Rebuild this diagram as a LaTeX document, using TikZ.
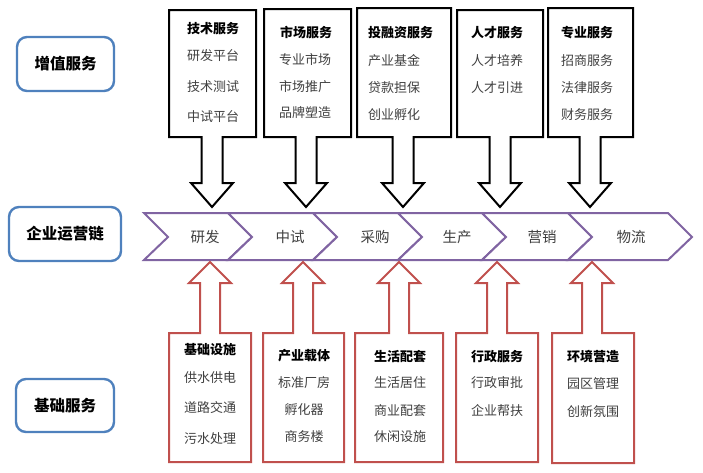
\documentclass[tikz,border=0pt]{standalone}
\usepackage{fontspec}
\setmainfont{Noto Sans CJK SC}
\definecolor{cblue}{HTML}{4F81BD}
\definecolor{cpurple}{HTML}{8064A2}
\definecolor{cred}{HTML}{C0504D}
\definecolor{ctext}{HTML}{404040}
\newcommand\dncall[6]{% left,right,top,boxbottom,center,style
  \draw[#6] (#1,#3) -- (#2,#3) -- (#2,#4) -- (#5+10.5,#4) -- (#5+10.5,183) -- (#5+21,183) -- (#5,207)
    -- (#5-21,183) -- (#5-10.5,183) -- (#5-10.5,#4) -- (#1,#4) -- cycle;}
\newcommand\upcall[6]{% left,right,boxtop,bottom,center,style
  \draw[#6] (#1,#4) -- (#2,#4) -- (#2,#3) -- (#5+10,#3) -- (#5+10,283) -- (#5+21,283) -- (#5,262)
    -- (#5-21,283) -- (#5-10,283) -- (#5-10,#3) -- (#1,#3) -- cycle;}
\newcommand\chev[3]{% left x, right x, style
  \draw[#3] (#1,213) -- (#2,213) -- (#2+24,237) -- (#2,260) -- (#1,260) -- (#1+24,237) -- cycle;}
\begin{document}
\begin{tikzpicture}[x=1pt,y=-1pt,
  topbox/.style={draw=black,line width=2pt,fill=white,line join=miter},
  botbox/.style={draw=cred,line width=2pt,fill=white,line join=miter},
  chevbox/.style={draw=cpurple,line width=2pt,fill=white,line join=miter},
  sidebox/.style={draw=cblue,line width=2.4pt,rounded corners=10pt,fill=white},
  sidetext/.style={font=\fontsize{15.5}{16}\selectfont\bfseries,text=black},
  ttl/.style={font=\fontsize{13}{14}\selectfont\bfseries,text=black,inner sep=0pt},
  itm/.style={font=\fontsize{13}{14}\selectfont,text=ctext,inner sep=0pt},
  chevtext/.style={font=\fontsize{14.5}{15}\selectfont,text=ctext,inner sep=0pt}]
\useasboundingbox (0,0) rectangle (703,472);
% side boxes
\draw[sidebox] (17,37) rectangle (114,91);
\node[sidetext] (s1) at (65.5,64) {增值服务};
\draw[sidebox] (9,207) rectangle (121,261);
\node[sidetext] (s2) at (65,234) {企业运营链};
\draw[sidebox] (16,379) rectangle (114,432);
\node[sidetext] (s3) at (65,405.5) {基础服务};
% chevrons
\chev{144}{228}{chevbox}
\chev{228}{313}{chevbox}
\chev{313}{398}{chevbox}
\chev{398}{482}{chevbox}
\chev{482}{568}{chevbox}
\chev{568}{668}{chevbox}
\node[chevtext] (c1) at (205,237) {研发};
\node[chevtext] (c2) at (290,237) {中试};
\node[chevtext] (c3) at (375,237) {采购};
\node[chevtext] (c4) at (457,237) {生产};
\node[chevtext] (c5) at (542,237) {营销};
\node[chevtext] (c6) at (631,237) {物流};
% top callouts
\dncall{169}{256}{10}{137}{212}{topbox}
\dncall{264}{351}{9}{137}{306}{topbox}
\dncall{357}{451}{8}{137}{403}{topbox}
\dncall{457}{543}{10}{137}{500}{topbox}
\dncall{548}{633}{8}{137}{590}{topbox}
\node[ttl] (a1) at (213,29) {技术服务};
\node[itm] (a11) at (213,56) {研发平台};
\node[itm] (a12) at (213,87) {技术测试};
\node[itm] (a13) at (213,117) {中试平台};
\node[ttl] (a2) at (306,32) {市场服务};
\node[itm] (a21) at (305,60) {专业市场};
\node[itm] (a22) at (305,87) {市场推广};
\node[itm] (a23) at (305,113) {品牌塑造};
\node[ttl,anchor=west] (a3) at (368,33) {投融资服务};
\node[itm,anchor=west] (a31) at (368,61) {产业基金};
\node[itm,anchor=west] (a32) at (368,88) {贷款担保};
\node[itm,anchor=west] (a33) at (368,115) {创业孵化};
\node[ttl] (a4) at (497,33) {人才服务};
\node[itm] (a41) at (497,61) {人才培养};
\node[itm] (a42) at (497,88) {人才引进};
\node[ttl] (a5) at (587,33) {专业服务};
\node[itm] (a51) at (587,61) {招商服务};
\node[itm] (a52) at (587,88) {法律服务};
\node[itm] (a53) at (587,115) {财务服务};
% bottom callouts
\upcall{169}{251}{333}{462}{210}{botbox}
\upcall{263}{344}{333}{462}{303}{botbox}
\upcall{355}{443}{333}{462}{399}{botbox}
\upcall{456}{538}{333}{462}{497}{botbox}
\upcall{552}{634}{333}{463}{592}{botbox}
\node[ttl] (b1) at (210,350) {基础设施};
\node[itm] (b11) at (210,378) {供水供电};
\node[itm] (b12) at (210,408) {道路交通};
\node[itm] (b13) at (210,439) {污水处理};
\node[ttl] (b2) at (304,356) {产业载体};
\node[itm] (b21) at (304,383) {标准厂房};
\node[itm] (b22) at (304,410) {孵化器};
\node[itm] (b23) at (304,437) {商务楼};
\node[ttl] (b3) at (400,357) {生活配套};
\node[itm] (b31) at (400,383) {生活居住};
\node[itm] (b32) at (400,411) {商业配套};
\node[itm] (b33) at (400,437) {休闲设施};
\node[ttl] (b4) at (497,357) {行政服务};
\node[itm] (b41) at (497,383) {行政审批};
\node[itm] (b42) at (497,411) {企业帮扶};
\node[ttl] (b5) at (593,357) {环境营造};
\node[itm] (b51) at (593,384) {园区管理};
\node[itm] (b52) at (593,412) {创新氛围};
\end{tikzpicture}
\end{document}
